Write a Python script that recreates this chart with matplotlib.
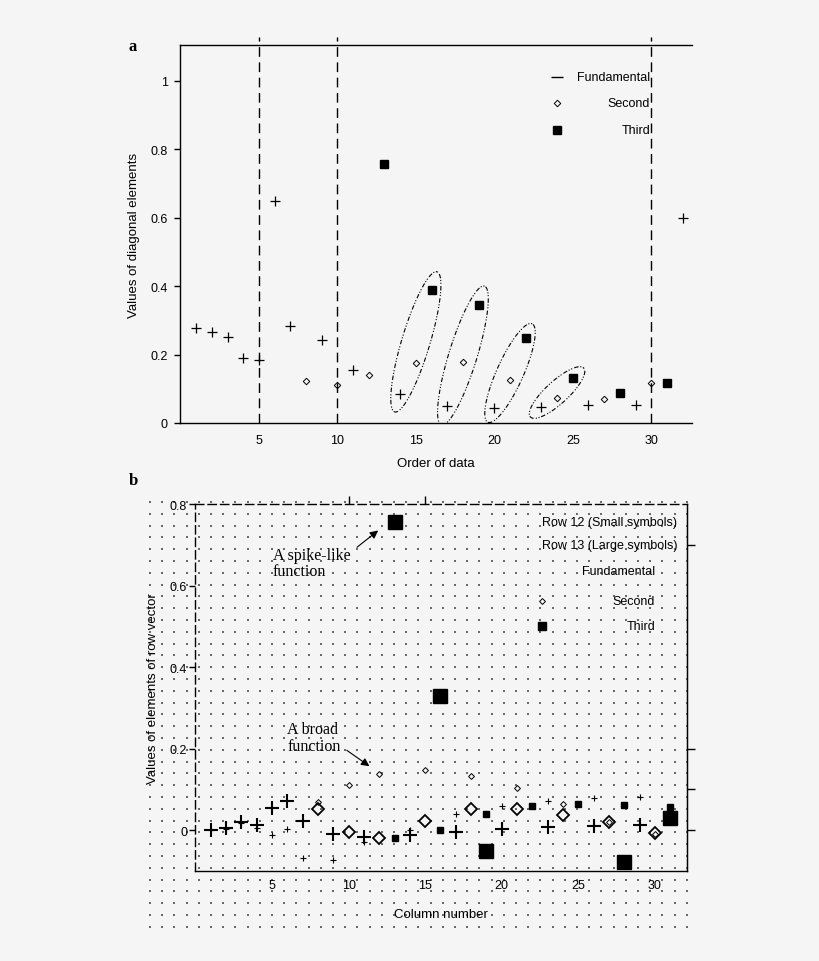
import numpy as np
import matplotlib.pyplot as plt

plt.rcParams['font.family'] = ['Liberation Sans', 'DejaVu Sans']
serif = ['Liberation Serif', 'DejaVu Serif']

# ---- panel a : values of diagonal elements ----
a_fund_x = [1, 2, 3, 4, 5, 6, 7, 9, 11, 14, 17, 20, 23, 26, 29, 32]
a_fund_y = [0.278, 0.266, 0.251, 0.190, 0.184, 0.647, 0.284, 0.243, 0.154,
            0.085, 0.049, 0.044, 0.047, 0.052, 0.053, 0.600]
a_sec_x = [8, 10, 12, 15, 18, 21, 24, 27, 30]
a_sec_y = [0.122, 0.112, 0.139, 0.176, 0.178, 0.127, 0.073, 0.069, 0.117]
a_third_x = [13, 16, 19, 22, 25, 28, 31]
a_third_y = [0.755, 0.389, 0.345, 0.248, 0.131, 0.087, 0.116]
a_vlines = [5, 10, 30]
a_groups = [(14, 16), (17, 19), (20, 22), (23, 25)]   # fundamental x -> third x
a_xticks = [5, 10, 15, 20, 25, 30]
a_yticks = [0, 0.2, 0.4, 0.6, 0.8, 1]
a_ylabels = ['0', '0.2', '0.4', '0.6', '0.8', '1']

# ---- panel b : elements of row vectors 12 and 13 ----
b_fund_x = [1, 2, 3, 4, 5, 6, 7, 9, 11, 14, 17, 20, 23, 26, 29]
b_sec_x = [8, 10, 12, 15, 18, 21, 24, 27, 30]
r12_third_x = [13, 16, 19, 22, 25, 28, 31]
r13_third_x = [13, 16, 19, 28, 31]
r12_fund = [0.0, 0.004, 0.018, 0.006, -0.012, 0.002, -0.068, -0.074, -0.028,
            0.0, 0.039, 0.060, 0.072, 0.078, 0.082]
r12_sec = [0.070, 0.112, 0.139, 0.147, 0.133, 0.104, 0.065, 0.020, -0.010]
r12_third = [-0.019, 0.001, 0.039, 0.060, 0.065, 0.063, 0.057]
r13_fund = [0.0, 0.006, 0.021, 0.012, 0.055, 0.072, 0.023, -0.010, -0.016,
            -0.012, -0.004, 0.004, 0.007, 0.011, 0.012]
r13_sec = [0.051, -0.004, -0.020, 0.022, 0.053, 0.052, 0.037, 0.019, -0.008]
r13_third = [0.757, 0.330, -0.052, -0.078, 0.029]
b_yticks = [0, 0.2, 0.4, 0.6, 0.8]
b_ylabels = ['0', '0.2', '0.4', '0.6', '0.8']

W, H = 820, 962
fig = plt.figure(figsize=(W / 100, H / 100), dpi=100, facecolor='#f5f5f5')

# dotted scan texture behind panel b
bg = fig.add_axes([0, 0, 1, 1], zorder=-5)
bg.set_xlim(0, W)
bg.set_ylim(H, 0)
bg.axis('off')
gx, gy = np.meshgrid(np.arange(150, 692, 12.2), np.arange(503, 932, 11.8))
bg.scatter(gx.ravel(), gy.ravel(), s=0.8, marker='s', color='#6a6a6a', lw=0)

# ================= panel a =================
a_xlim = (0, 32.6)
a_ylim = (0, 1.104)
axa = fig.add_axes([180.5 / W, 1 - 424 / H, (692 - 180.5) / W, (424 - 46) / H])
axa.set_facecolor('none')
axa.set_xlim(*a_xlim)
axa.set_ylim(*a_ylim)
axa.spines['right'].set_visible(False)
for s in ['left', 'bottom', 'top']:
    axa.spines[s].set_linewidth(1.0)

for xv in a_vlines:
    axa.axvline(xv, ymin=0, ymax=1.02, color='k', lw=1.0,
                ls=(0, (7, 4)), clip_on=False)

axa.plot(a_fund_x, a_fund_y, ls='none', marker='+', ms=6.5, mew=0.9, color='k')
axa.plot(a_sec_x, a_sec_y, ls='none', marker='D', ms=3.3, mew=0.7,
         mfc='none', mec='k')
axa.plot(a_third_x, a_third_y, ls='none', marker='s', ms=6.3, color='k')

# ellipses around fundamental/second/third groups
pos = axa.get_position()
k = (pos.height * H / (a_ylim[1] - a_ylim[0])) / (pos.width * W / (a_xlim[1] - a_xlim[0]))
lookup = dict(zip(a_fund_x, a_fund_y))
lookup_t = dict(zip(a_third_x, a_third_y))
t = np.linspace(0, 2 * np.pi, 300)
for (xf, xt), pad, b in zip(a_groups, [1.2, 1.25, 1.0, 0.95], [0.9, 0.9, 0.85, 0.72]):
    u1, v1 = xf, lookup[xf] * k
    u2, v2 = xt, lookup_t[xt] * k
    cu, cv = (u1 + u2) / 2, (v1 + v2) / 2
    a = np.hypot(u2 - u1, v2 - v1) / 2 + pad
    ang = np.arctan2(v2 - v1, u2 - u1)
    u = cu + a * np.cos(t) * np.cos(ang) - b * np.sin(t) * np.sin(ang)
    v = cv + a * np.cos(t) * np.sin(ang) + b * np.sin(t) * np.cos(ang)
    axa.plot(u, v / k, color='k', lw=0.8, ls=(0, (1, 1.5, 1, 1.5, 4, 2)))

axa.set_xticks(a_xticks)
axa.set_yticks(a_yticks)
axa.set_yticklabels(a_ylabels)
axa.tick_params(axis='x', length=0, pad=8, labelsize=9)
axa.tick_params(axis='y', length=4, width=1, direction='out', pad=5, labelsize=9)
axa.set_xlabel('Order of data', fontsize=9.5, labelpad=8)
axa.set_ylabel('Values of diagonal elements', fontsize=9.5, labelpad=8)

# legend of panel a
leg_a = [('_', dict(ms=8, mew=1.0, color='k'), 'Fundamental', 0.915),
         ('D', dict(ms=3.3, mew=0.7, mfc='none', mec='k'), 'Second', 0.847),
         ('s', dict(ms=6.3, color='k'), 'Third', 0.775)]
for mk, kw, lab, yy in leg_a:
    axa.plot([0.736], [yy], marker=mk, ls='none', transform=axa.transAxes, **kw)
    axa.text(0.918, yy, lab, transform=axa.transAxes, ha='right', va='center',
             fontsize=9)

fig.text(133 / W, 1 - 47 / H, 'a', family=serif, fontweight='bold',
         fontsize=12, ha='center', va='center')

# ================= panel b =================
axb = fig.add_axes([195.5 / W, 1 - 872 / H, (687 - 195.5) / W, (872 - 505) / H])
axb.set_facecolor('none')
axb.set_xlim(0, 32.1)
axb.set_ylim(-0.1, 0.8)
axb.spines['left'].set_linestyle((0, (6, 3)))
axb.spines['top'].set_linestyle((0, (6, 3)))
for s in axb.spines.values():
    s.set_linewidth(1.0)

# row 12 : small symbols
axb.plot(b_fund_x, r12_fund, ls='none', marker='+', ms=5, mew=0.8, color='k')
axb.plot(b_sec_x, r12_sec, ls='none', marker='D', ms=3.0, mew=0.7,
         mfc='none', mec='k')
axb.plot(r12_third_x, r12_third, ls='none', marker='s', ms=5, color='k')
# row 13 : large symbols
axb.plot(b_fund_x, r13_fund, ls='none', marker='+', ms=9.5, mew=1.5, color='k')
axb.plot(b_sec_x, r13_sec, ls='none', marker='D', ms=6.2, mew=1.3,
         mfc='none', mec='k')
axb.plot(r13_third_x, r13_third, ls='none', marker='s', ms=10, color='k')

axb.set_xticks(a_xticks)
axb.set_yticks(b_yticks)
axb.set_yticklabels(b_ylabels)
axb.tick_params(axis='x', length=0, pad=6, labelsize=9)
axb.tick_params(axis='y', length=4, width=1, direction='out', pad=2, labelsize=9)
axb.set_xlabel('Column number', fontsize=9.5, labelpad=12)
axb.set_ylabel('Values of elements of row vector', fontsize=9.5, labelpad=8)

sy = axb.secondary_yaxis('right')
sy.set_yticks([0, 0.1, 0.2, 0.7])
sy.set_yticklabels([])
sy.tick_params(length=6, width=1, direction='out')
sx = axb.secondary_xaxis('top')
sx.set_xticks([10, 15])
sx.set_xticklabels([])
sx.tick_params(length=6, width=1, direction='out')
sx.spines['top'].set_visible(False)

# annotations
axb.annotate('', xy=(11.93, 0.735), xytext=(10.55, 0.694),
             arrowprops=dict(arrowstyle='-|>', color='k', lw=0.8,
                             mutation_scale=12, shrinkA=0, shrinkB=0))
axb.text(5.05, 0.655, 'A spike-like\nfunction', family=serif, fontsize=11.5,
         ha='left', va='center', linespacing=1.05)
axb.annotate('', xy=(11.36, 0.157), xytext=(9.88, 0.196),
             arrowprops=dict(arrowstyle='-|>', color='k', lw=0.8,
                             mutation_scale=12, shrinkA=0, shrinkB=0))
axb.text(5.98, 0.228, 'A broad\nfunction', family=serif, fontsize=11.5,
         ha='left', va='center', linespacing=1.05)

# legend of panel b
axb.text(0.98, 0.951, 'Row 12 (Small symbols)', transform=axb.transAxes,
         ha='right', va='center', fontsize=9)
axb.text(0.98, 0.888, 'Row 13 (Large symbols)', transform=axb.transAxes,
         ha='right', va='center', fontsize=9)
leg_b = [(None, None, 'Fundamental', 0.817),
         ('D', dict(ms=3.0, mew=0.7, mfc='none', mec='k'), 'Second', 0.736),
         ('s', dict(ms=5.5, color='k'), 'Third', 0.668)]
for mk, kw, lab, yy in leg_b:
    if mk is not None:
        axb.plot([0.706], [yy], marker=mk, ls='none', transform=axb.transAxes, **kw)
    axb.text(0.935, yy, lab, transform=axb.transAxes, ha='right', va='center',
             fontsize=9)

fig.text(133 / W, 1 - 481 / H, 'b', family=serif, fontweight='bold',
         fontsize=12, ha='center', va='center')

fig.savefig('out.png', dpi=100, facecolor=fig.get_facecolor())
